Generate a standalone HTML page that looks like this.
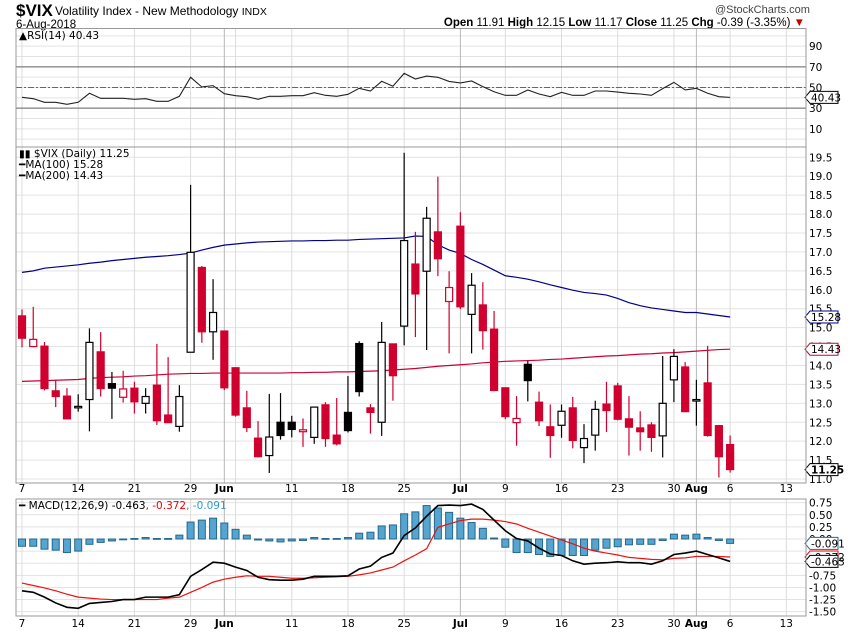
<!DOCTYPE html>
<html><head><meta charset="utf-8"><style>
body{margin:0;background:#fff;}
svg{display:block;}
.ax{font-family:"DejaVu Sans","Liberation Sans",sans-serif;font-size:10.5px;fill:#000;}
.hd{font-family:"Liberation Sans",sans-serif;}
</style></head><body>
<svg id="chart" width="850" height="633" viewBox="0 0 850 633" xmlns="http://www.w3.org/2000/svg">
<rect width="850" height="633" fill="#fff"/>
<text class="hd" x="16" y="16" font-size="17" font-weight="bold">$VIX</text>
<text class="hd" x="55" y="15" font-size="12">Volatility Index - New Methodology <tspan font-size="10.5">INDX</tspan></text>
<text class="hd" x="16" y="28" font-size="11.5">6-Aug-2018</text>
<text class="hd" x="715" y="13" font-size="11" fill="#444">@StockCharts.com</text>
<text class="hd" x="805" y="26" font-size="11.5" text-anchor="end"><tspan font-weight="bold">Open</tspan> 11.91 <tspan font-weight="bold">High</tspan> 12.15 <tspan font-weight="bold">Low</tspan> 11.17 <tspan font-weight="bold">Close</tspan> 11.25 <tspan font-weight="bold">Chg</tspan> -0.39 (-3.35%) <tspan fill="#c00">▼</tspan></text>
<g id="grid"></g>
<g id="rsi"></g>
<g id="main"></g>
<g id="macd"></g>
<g id="frames"></g>
</svg>
<script>
const opens=[15.31,14.50,14.51,13.33,13.19,12.89,13.10,14.36,13.52,13.16,13.40,13.00,13.48,12.69,12.39,14.35,16.59,14.89,14.91,13.94,12.88,12.08,11.62,12.50,12.50,12.25,12.10,12.96,12.16,12.76,14.58,12.88,12.50,14.57,15.04,16.68,16.49,17.53,15.69,17.68,15.35,15.60,14.96,13.41,12.49,14.03,13.03,12.38,12.42,12.88,11.83,12.16,12.98,13.46,12.59,12.35,12.43,12.14,13.62,13.96,13.07,13.54,12.41,11.91];
const highs=[15.48,15.55,14.62,13.62,13.40,13.24,14.98,14.88,13.83,13.86,13.57,13.40,14.57,14.22,13.48,18.77,16.63,16.28,14.91,13.94,13.33,12.53,13.25,13.27,12.67,12.60,12.91,13.03,13.14,13.72,14.64,12.98,15.15,14.57,19.62,17.53,18.19,18.99,16.49,18.05,16.44,16.20,15.44,13.42,13.19,14.12,13.31,12.97,12.97,13.17,12.45,13.07,13.57,13.54,13.19,12.79,12.50,14.25,14.43,14.09,13.62,14.52,12.43,12.15];
const lows=[14.48,14.48,13.34,12.90,12.59,12.78,12.26,13.18,12.59,13.02,12.73,12.73,12.43,12.49,12.25,14.35,14.60,14.15,13.35,12.65,12.24,11.57,11.16,12.04,12.10,11.85,11.93,11.85,11.89,12.23,13.18,12.20,12.14,13.07,14.53,14.75,14.41,16.36,14.32,15.49,14.32,14.42,13.32,12.58,11.88,13.05,12.40,11.56,12.09,11.81,11.42,11.75,12.24,12.55,11.62,11.75,11.72,11.57,13.03,12.78,12.41,12.12,11.04,11.17];
const closes=[14.72,14.69,13.39,13.18,12.59,12.92,14.61,13.39,13.40,13.38,13.04,13.18,12.54,12.49,13.18,16.99,14.89,15.40,13.41,12.69,12.36,11.59,12.11,12.15,12.31,12.30,12.90,12.07,11.93,12.28,13.31,12.76,14.61,13.73,17.30,15.89,17.89,16.82,16.06,15.55,16.12,14.92,13.34,12.65,12.60,13.60,12.54,12.15,12.79,12.02,12.07,12.84,12.81,12.58,12.37,12.25,12.10,13.00,14.24,12.78,13.10,12.15,11.59,11.25];
const prevClose0=15.5;
const ma100=[16.46,16.50,16.57,16.60,16.63,16.66,16.70,16.73,16.77,16.80,16.83,16.86,16.88,16.90,16.93,16.97,17.05,17.12,17.18,17.21,17.24,17.26,17.27,17.28,17.29,17.29,17.30,17.30,17.31,17.31,17.33,17.34,17.35,17.36,17.37,17.42,17.41,17.19,17.05,16.96,16.80,16.67,16.52,16.37,16.33,16.28,16.21,16.13,16.06,15.99,15.93,15.90,15.86,15.77,15.66,15.58,15.52,15.48,15.44,15.40,15.40,15.36,15.32,15.28];
const ma200=[13.58,13.59,13.60,13.61,13.62,13.63,13.66,13.68,13.69,13.70,13.72,13.73,13.75,13.77,13.78,13.79,13.79,13.80,13.80,13.80,13.80,13.80,13.80,13.80,13.81,13.81,13.82,13.82,13.83,13.83,13.84,13.85,13.86,13.88,13.90,13.92,13.95,13.98,14.00,14.02,14.04,14.07,14.09,14.11,14.12,14.13,14.14,14.16,14.17,14.19,14.21,14.23,14.25,14.26,14.28,14.30,14.31,14.33,14.34,14.36,14.38,14.40,14.42,14.43];
const rsiVals=[40.5,39.2,35.7,35.7,33.7,35.7,44.4,39.5,39.5,39.5,38.6,39.2,36.6,36.6,41.5,59.9,50.5,51.8,44.0,42.1,41.1,38.6,41.5,41.5,42.1,42.1,45.0,42.4,41.5,43.4,49.2,46.6,56.0,51.2,63.7,58.2,61.1,59.9,55.9,54.4,56.3,50.8,45.9,42.4,42.4,47.6,43.7,41.1,45.3,42.4,42.4,46.6,46.6,45.6,44.4,43.7,42.4,48.9,55.0,47.6,49.2,44.4,41.1,40.43];
const macdVals=[-1.07,-1.10,-1.20,-1.32,-1.41,-1.43,-1.33,-1.31,-1.29,-1.25,-1.25,-1.20,-1.20,-1.20,-1.15,-0.77,-0.63,-0.48,-0.50,-0.58,-0.65,-0.79,-0.84,-0.85,-0.85,-0.83,-0.77,-0.77,-0.77,-0.76,-0.62,-0.56,-0.38,-0.29,0.07,0.23,0.47,0.69,0.70,0.69,0.72,0.61,0.39,0.17,0.01,-0.04,-0.19,-0.31,-0.34,-0.45,-0.52,-0.50,-0.49,-0.47,-0.49,-0.49,-0.52,-0.45,-0.32,-0.29,-0.25,-0.32,-0.39,-0.463];
const signalVals=[-0.91,-0.96,-1.01,-1.07,-1.14,-1.20,-1.22,-1.24,-1.25,-1.25,-1.25,-1.25,-1.25,-1.22,-1.20,-1.10,-1.00,-0.89,-0.83,-0.79,-0.76,-0.77,-0.77,-0.79,-0.81,-0.81,-0.80,-0.79,-0.78,-0.77,-0.74,-0.70,-0.64,-0.58,-0.45,-0.33,-0.20,0.24,0.31,0.38,0.41,0.41,0.39,0.36,0.31,0.22,0.14,0.06,-0.02,-0.10,-0.19,-0.25,-0.29,-0.33,-0.38,-0.40,-0.42,-0.43,-0.40,-0.39,-0.36,-0.36,-0.36,-0.372];
const histVals=[-0.15,-0.15,-0.21,-0.23,-0.28,-0.25,-0.11,-0.07,-0.04,-0.01,0.01,0.03,0.01,0.01,0.08,0.35,0.39,0.43,0.33,0.20,0.08,-0.02,-0.04,-0.06,-0.04,-0.03,0.03,0.01,0.01,0.03,0.12,0.14,0.27,0.29,0.52,0.56,0.69,0.64,0.55,0.43,0.34,0.22,0.02,-0.17,-0.28,-0.28,-0.32,-0.36,-0.34,-0.34,-0.34,-0.23,-0.19,-0.16,-0.12,-0.11,-0.11,-0.03,0.10,0.08,0.10,0.03,-0.03,-0.091];
const weekLabels=["7","14","21","29","Jun","11","18","25","Jul","9","16","23","30","Aug","6","13"];
const weekIdx=[0,5,10,15,18,24,29,34,39,43,48,53,58,60,63,68];
const weekBold=[0,0,0,0,1,0,0,0,1,0,0,0,0,1,0,0];
const gridIdx=[0,5,10,15,19,24,29,34,43,48,53,58,63,68];
const monthIdx=[18,39,60];
const priceTicks=["11.0","11.5","12.0","12.5","13.0","13.5","14.0","14.5","15.0","15.5","16.0","16.5","17.0","17.5","18.0","18.5","19.0","19.5"];
const rsiTicks=[10,30,50,70,90];
const macdTicks=["0.75","0.50","0.25","0.00","-0.50","-0.75","-1.00","-1.25","-1.50"];

const NS="http://www.w3.org/2000/svg";
const L=16,R=806,RT=28.5,RB=147,MT=147,MB=483,DT=499,DB=616;
const xi=i=>22+i*11.24;
const yP=v=>157.3+(19.5-v)*37.85;
const yR=r=>87.5-(r-50)*1.033;
const yM=m=>539-m*48.44;
function mk(parent,tag,attrs){const e=document.createElementNS(NS,tag);for(const k in attrs)e.setAttribute(k,attrs[k]);document.getElementById(parent).appendChild(e);return e;}
function txt(parent,x,y,s,extra){const e=mk(parent,'text',Object.assign({x:x,y:y,class:'ax'},extra||{}));e.textContent=s;return e;}

// horizontal grids
priceTicks.forEach(t=>{const v=parseFloat(t);const l=mk('grid','line',{x1:L,x2:R,y1:yP(v),y2:yP(v),stroke:'#e3e3e3'});


const tx=txt('grid',809,yP(v)+4,t);

});
for(let r=0;r<=100;r+=10){if(yR(r)<RT||yR(r)>RB)continue;const l=mk('grid','line',{x1:L,x2:R,y1:yR(r),y2:yR(r),stroke:'#e3e3e3'});

}
rsiTicks.forEach(r=>{const tx=txt('grid',809,yR(r)+4,String(r));

});
for(let m=0.75;m>=-1.5;m-=0.25){const l=mk('grid','line',{x1:L,x2:R,y1:yM(m),y2:yM(m),stroke:'#e3e3e3'});

}
macdTicks.forEach(t=>{const tx=txt('grid',809,yM(parseFloat(t))+4,t);

});
// vertical grids
gridIdx.forEach(i=>{[[RT,RB],[MT,MB],[DT,DB]].forEach(p=>{const l=mk('grid','line',{x1:xi(i),x2:xi(i),y1:p[0],y2:p[1],stroke:'#dcdcdc'});

});});
monthIdx.forEach(i=>{const x=xi(i)-(i===18?0:0);[[RT,RB],[MT,MB],[DT,DB]].forEach(p=>{const l=mk('grid','line',{x1:x,x2:x,y1:p[0],y2:p[1],stroke:'#b8b8b8'});

});});
// date labels
weekLabels.forEach((s,k)=>{[492,627].forEach(y=>{const tx=txt('grid',xi(weekIdx[k]),y,s,{'text-anchor':'middle','font-weight':weekBold[k]?'bold':'normal'});

});});

// RSI
[[70,'#666','none'],[30,'#666','none'],[50,'#666','6,2,2,2']].forEach(a=>{const l=mk('rsi','line',{x1:L,x2:R,y1:yR(a[0]),y2:yR(a[0]),stroke:a[1],'stroke-dasharray':a[2]});

});
const rp=mk('rsi','polyline',{points:rsiVals.map((r,i)=>xi(i)+','+yR(r)).join(' '),fill:'none',stroke:'#222','stroke-width':1.1});


const rl=txt('rsi',19,39,'▲RSI(14) 40.43',{'font-size':'11'});



// main: MAs
const m1=mk('main','polyline',{points:ma100.map((v,i)=>xi(i)+','+yP(v)).join(' '),fill:'none',stroke:'#000088','stroke-width':1.2});


const m2=mk('main','polyline',{points:ma200.map((v,i)=>xi(i)+','+yP(v)).join(' '),fill:'none',stroke:'#cc0033','stroke-width':1.2});


// candles
closes.forEach((c,i)=>{const o=opens[i],pc=i?closes[i-1]:prevClose0;const col=c<pc?'#d0002f':'#000';const x=xi(i);
const w=mk('main','line',{x1:x,x2:x,y1:yP(highs[i]),y2:yP(lows[i]),stroke:col,'stroke-width':1.2});


const top=yP(Math.max(o,c)),bot=yP(Math.min(o,c));const hollow=c>o;
const b=mk('main','rect',{x:x-3.5,y:top,width:7,height:Math.max(1.5,bot-top),fill:hollow?'#fff':col,stroke:col,'stroke-width':1.2});

});
const l1=txt('main',19,157,'▮▮ $VIX (Daily) 11.25',{'font-size':'11'});


const l2=txt('main',19,168,'━MA(100) 15.28',{'font-size':'11',fill:'#000088'});


const l3=txt('main',19,179,'━MA(200) 14.43',{'font-size':'11',fill:'#cc0033'});



// MACD
histVals.forEach((h,i)=>{const y0=yM(0),y1=yM(h);const b=mk('macd','rect',{x:xi(i)-3.5,y:Math.min(y0,y1),width:7,height:Math.max(0.8,Math.abs(y1-y0)),fill:'#55a5d0',stroke:'#24688c','stroke-width':1});

});
const sp=mk('macd','polyline',{points:signalVals.map((v,i)=>xi(i)+','+yM(v)).join(' '),fill:'none',stroke:'#ee1111','stroke-width':1.2});


const mp=mk('macd','polyline',{points:macdVals.map((v,i)=>xi(i)+','+yM(v)).join(' '),fill:'none',stroke:'#000','stroke-width':1.6});


const ml=mk('macd','text',{x:19,y:509,class:'ax','font-size':'11'});
ml.innerHTML='━ MACD(12,26,9) -0.463<tspan fill="#e00">, -0.372</tspan><tspan fill="#3399cc">, -0.091</tspan>';



// value tags
function tag(y,s,col,bold,name){const g=mk('frames','g',{});
const p=document.createElementNS(NS,'path');p.setAttribute('d',`M805 ${y} L810 ${y-6} L838 ${y-6} L838 ${y+6} L810 ${y+6} Z`);p.setAttribute('fill','#fff');p.setAttribute('stroke',col);g.appendChild(p);
const t=document.createElementNS(NS,'text');t.setAttribute('x',811);t.setAttribute('y',y+4);t.setAttribute('class','ax');if(bold)t.setAttribute('font-weight','bold');t.textContent=s;g.appendChild(t);}
tag(yR(40.43),'40.43','#000',false,'rsi-value-tag');
tag(yP(15.28),'15.28','#000088',false,'ma100-value-tag');
tag(yP(14.43),'14.43','#cc0033',false,'ma200-value-tag');
tag(yP(11.25),'11.25','#000',true,'close-value-tag');
tag(yM(-0.091),'-0.091','#24688c',false,'histogram-value-tag');
tag(yM(-0.372),'-0.372','#e00',false,'signal-value-tag');
tag(yM(-0.463),'-0.463','#000',false,'macd-value-tag');

// frames
[[RT,RB,'rsi-panel-frame'],[MT,MB,'price-panel-frame'],[DT,DB,'macd-panel-frame']].forEach(p=>{const r=mk('frames','rect',{x:L,y:p[0],width:R-L,height:p[1]-p[0],fill:'none',stroke:'#999'});

});
</script>
</body></html>
